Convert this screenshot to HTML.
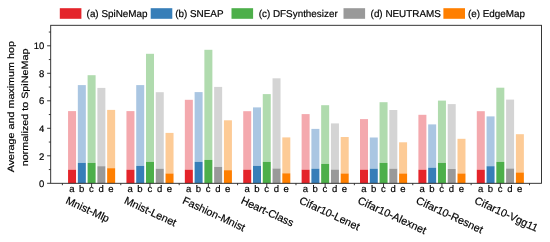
<!DOCTYPE html><html><head><meta charset="utf-8"><title>chart</title><style>html,body{margin:0;padding:0;background:#fff}svg{display:block}text{font-family:"Liberation Sans",Arial,sans-serif;fill:#000;stroke:#000;stroke-width:0.18px;text-rendering:geometricPrecision}</style></head><body>
<svg width="550" height="242" viewBox="0 0 550 242">
<rect width="550" height="242" fill="#fff"/>
<rect x="68.06" y="111.10" width="8.0" height="58.60" fill="#f4a9ae"/>
<rect x="68.06" y="169.70" width="8.0" height="13.60" fill="#e4242a"/>
<rect x="77.83" y="85.10" width="8.0" height="77.80" fill="#aac6e2"/>
<rect x="77.83" y="162.90" width="8.0" height="20.40" fill="#377eb8"/>
<rect x="87.60" y="75.20" width="8.0" height="87.70" fill="#b0dbae"/>
<rect x="87.60" y="162.90" width="8.0" height="20.40" fill="#4daf4a"/>
<rect x="97.37" y="87.90" width="8.0" height="78.30" fill="#d4d4d4"/>
<rect x="97.37" y="166.20" width="8.0" height="17.10" fill="#999999"/>
<rect x="107.14" y="109.90" width="8.0" height="58.30" fill="#fdcb96"/>
<rect x="107.14" y="168.20" width="8.0" height="15.10" fill="#ff7f00"/>
<rect x="126.45" y="111.10" width="8.0" height="58.60" fill="#f4a9ae"/>
<rect x="126.45" y="169.70" width="8.0" height="13.60" fill="#e4242a"/>
<rect x="136.22" y="85.10" width="8.0" height="80.80" fill="#aac6e2"/>
<rect x="136.22" y="165.90" width="8.0" height="17.40" fill="#377eb8"/>
<rect x="145.99" y="53.80" width="8.0" height="108.10" fill="#b0dbae"/>
<rect x="145.99" y="161.90" width="8.0" height="21.40" fill="#4daf4a"/>
<rect x="155.76" y="92.20" width="8.0" height="76.50" fill="#d4d4d4"/>
<rect x="155.76" y="168.70" width="8.0" height="14.60" fill="#999999"/>
<rect x="165.53" y="132.90" width="8.0" height="40.60" fill="#fdcb96"/>
<rect x="165.53" y="173.50" width="8.0" height="9.80" fill="#ff7f00"/>
<rect x="184.84" y="99.80" width="8.0" height="69.90" fill="#f4a9ae"/>
<rect x="184.84" y="169.70" width="8.0" height="13.60" fill="#e4242a"/>
<rect x="194.61" y="92.10" width="8.0" height="69.80" fill="#aac6e2"/>
<rect x="194.61" y="161.90" width="8.0" height="21.40" fill="#377eb8"/>
<rect x="204.38" y="49.80" width="8.0" height="110.10" fill="#b0dbae"/>
<rect x="204.38" y="159.90" width="8.0" height="23.40" fill="#4daf4a"/>
<rect x="214.15" y="86.90" width="8.0" height="80.00" fill="#d4d4d4"/>
<rect x="214.15" y="166.90" width="8.0" height="16.40" fill="#999999"/>
<rect x="223.92" y="120.30" width="8.0" height="49.90" fill="#fdcb96"/>
<rect x="223.92" y="170.20" width="8.0" height="13.10" fill="#ff7f00"/>
<rect x="243.23" y="111.20" width="8.0" height="58.50" fill="#f4a9ae"/>
<rect x="243.23" y="169.70" width="8.0" height="13.60" fill="#e4242a"/>
<rect x="253.00" y="107.40" width="8.0" height="58.50" fill="#aac6e2"/>
<rect x="253.00" y="165.90" width="8.0" height="17.40" fill="#377eb8"/>
<rect x="262.77" y="94.10" width="8.0" height="67.80" fill="#b0dbae"/>
<rect x="262.77" y="161.90" width="8.0" height="21.40" fill="#4daf4a"/>
<rect x="272.54" y="78.30" width="8.0" height="90.20" fill="#d4d4d4"/>
<rect x="272.54" y="168.50" width="8.0" height="14.80" fill="#999999"/>
<rect x="282.31" y="137.40" width="8.0" height="35.90" fill="#fdcb96"/>
<rect x="282.31" y="173.30" width="8.0" height="10.00" fill="#ff7f00"/>
<rect x="301.62" y="114.10" width="8.0" height="55.60" fill="#f4a9ae"/>
<rect x="301.62" y="169.70" width="8.0" height="13.60" fill="#e4242a"/>
<rect x="311.39" y="128.90" width="8.0" height="39.80" fill="#aac6e2"/>
<rect x="311.39" y="168.70" width="8.0" height="14.60" fill="#377eb8"/>
<rect x="321.16" y="105.20" width="8.0" height="58.70" fill="#b0dbae"/>
<rect x="321.16" y="163.90" width="8.0" height="19.40" fill="#4daf4a"/>
<rect x="330.93" y="123.40" width="8.0" height="46.20" fill="#d4d4d4"/>
<rect x="330.93" y="169.60" width="8.0" height="13.70" fill="#999999"/>
<rect x="340.70" y="137.00" width="8.0" height="36.50" fill="#fdcb96"/>
<rect x="340.70" y="173.50" width="8.0" height="9.80" fill="#ff7f00"/>
<rect x="360.01" y="119.10" width="8.0" height="50.60" fill="#f4a9ae"/>
<rect x="360.01" y="169.70" width="8.0" height="13.60" fill="#e4242a"/>
<rect x="369.78" y="137.50" width="8.0" height="31.20" fill="#aac6e2"/>
<rect x="369.78" y="168.70" width="8.0" height="14.60" fill="#377eb8"/>
<rect x="379.55" y="102.20" width="8.0" height="60.70" fill="#b0dbae"/>
<rect x="379.55" y="162.90" width="8.0" height="20.40" fill="#4daf4a"/>
<rect x="389.32" y="110.00" width="8.0" height="58.70" fill="#d4d4d4"/>
<rect x="389.32" y="168.70" width="8.0" height="14.60" fill="#999999"/>
<rect x="399.09" y="142.30" width="8.0" height="31.20" fill="#fdcb96"/>
<rect x="399.09" y="173.50" width="8.0" height="9.80" fill="#ff7f00"/>
<rect x="418.40" y="114.80" width="8.0" height="54.90" fill="#f4a9ae"/>
<rect x="418.40" y="169.70" width="8.0" height="13.60" fill="#e4242a"/>
<rect x="428.17" y="124.40" width="8.0" height="43.30" fill="#aac6e2"/>
<rect x="428.17" y="167.70" width="8.0" height="15.60" fill="#377eb8"/>
<rect x="437.94" y="100.60" width="8.0" height="62.30" fill="#b0dbae"/>
<rect x="437.94" y="162.90" width="8.0" height="20.40" fill="#4daf4a"/>
<rect x="447.71" y="104.10" width="8.0" height="64.90" fill="#d4d4d4"/>
<rect x="447.71" y="169.00" width="8.0" height="14.30" fill="#999999"/>
<rect x="457.48" y="138.80" width="8.0" height="34.70" fill="#fdcb96"/>
<rect x="457.48" y="173.50" width="8.0" height="9.80" fill="#ff7f00"/>
<rect x="476.79" y="111.20" width="8.0" height="58.50" fill="#f4a9ae"/>
<rect x="476.79" y="169.70" width="8.0" height="13.60" fill="#e4242a"/>
<rect x="486.56" y="116.40" width="8.0" height="49.80" fill="#aac6e2"/>
<rect x="486.56" y="166.20" width="8.0" height="17.10" fill="#377eb8"/>
<rect x="496.33" y="87.70" width="8.0" height="74.20" fill="#b0dbae"/>
<rect x="496.33" y="161.90" width="8.0" height="21.40" fill="#4daf4a"/>
<rect x="506.10" y="99.60" width="8.0" height="68.90" fill="#d4d4d4"/>
<rect x="506.10" y="168.50" width="8.0" height="14.80" fill="#999999"/>
<rect x="515.87" y="134.20" width="8.0" height="38.30" fill="#fdcb96"/>
<rect x="515.87" y="172.50" width="8.0" height="10.80" fill="#ff7f00"/>
<rect x="50.7" y="25.3" width="490.80" height="158.00" fill="none" stroke="#222" stroke-width="0.9"/>
<line x1="47.1" x2="50.7" y1="183.30" y2="183.30" stroke="#222" stroke-width="0.9"/>
<text x="44.300000000000004" y="187.10" font-size="9.5" text-anchor="end">0</text>
<line x1="48.800000000000004" x2="50.7" y1="169.55" y2="169.55" stroke="#222" stroke-width="0.9"/>
<line x1="47.1" x2="50.7" y1="155.80" y2="155.80" stroke="#222" stroke-width="0.9"/>
<text x="44.300000000000004" y="159.50" font-size="9.5" text-anchor="end">2</text>
<line x1="48.800000000000004" x2="50.7" y1="142.05" y2="142.05" stroke="#222" stroke-width="0.9"/>
<line x1="47.1" x2="50.7" y1="128.30" y2="128.30" stroke="#222" stroke-width="0.9"/>
<text x="44.300000000000004" y="131.90" font-size="9.5" text-anchor="end">4</text>
<line x1="48.800000000000004" x2="50.7" y1="114.55" y2="114.55" stroke="#222" stroke-width="0.9"/>
<line x1="47.1" x2="50.7" y1="100.80" y2="100.80" stroke="#222" stroke-width="0.9"/>
<text x="44.300000000000004" y="104.30" font-size="9.5" text-anchor="end">6</text>
<line x1="48.800000000000004" x2="50.7" y1="87.05" y2="87.05" stroke="#222" stroke-width="0.9"/>
<line x1="47.1" x2="50.7" y1="73.30" y2="73.30" stroke="#222" stroke-width="0.9"/>
<text x="44.300000000000004" y="76.70" font-size="9.5" text-anchor="end">8</text>
<line x1="48.800000000000004" x2="50.7" y1="59.55" y2="59.55" stroke="#222" stroke-width="0.9"/>
<line x1="47.1" x2="50.7" y1="45.80" y2="45.80" stroke="#222" stroke-width="0.9"/>
<text x="44.300000000000004" y="49.10" font-size="9.5" text-anchor="end">10</text>
<line x1="48.800000000000004" x2="50.7" y1="32.05" y2="32.05" stroke="#222" stroke-width="0.9"/>
<line x1="91.60" x2="91.60" y1="183.3" y2="187.20000000000002" stroke="#222" stroke-width="0.9"/>
<text x="71.86" y="192.3" font-size="9.5" text-anchor="middle">a</text>
<text x="81.63" y="192.3" font-size="9.5" text-anchor="middle">b</text>
<text x="91.40" y="192.3" font-size="9.5" text-anchor="middle">c</text>
<text x="101.17" y="192.3" font-size="9.5" text-anchor="middle">d</text>
<text x="110.94" y="192.3" font-size="9.5" text-anchor="middle">e</text>
<line x1="149.99" x2="149.99" y1="183.3" y2="187.20000000000002" stroke="#222" stroke-width="0.9"/>
<text x="130.25" y="192.3" font-size="9.5" text-anchor="middle">a</text>
<text x="140.02" y="192.3" font-size="9.5" text-anchor="middle">b</text>
<text x="149.79" y="192.3" font-size="9.5" text-anchor="middle">c</text>
<text x="159.56" y="192.3" font-size="9.5" text-anchor="middle">d</text>
<text x="169.33" y="192.3" font-size="9.5" text-anchor="middle">e</text>
<line x1="208.38" x2="208.38" y1="183.3" y2="187.20000000000002" stroke="#222" stroke-width="0.9"/>
<text x="188.64" y="192.3" font-size="9.5" text-anchor="middle">a</text>
<text x="198.41" y="192.3" font-size="9.5" text-anchor="middle">b</text>
<text x="208.18" y="192.3" font-size="9.5" text-anchor="middle">c</text>
<text x="217.95" y="192.3" font-size="9.5" text-anchor="middle">d</text>
<text x="227.72" y="192.3" font-size="9.5" text-anchor="middle">e</text>
<line x1="266.77" x2="266.77" y1="183.3" y2="187.20000000000002" stroke="#222" stroke-width="0.9"/>
<text x="247.03" y="192.3" font-size="9.5" text-anchor="middle">a</text>
<text x="256.80" y="192.3" font-size="9.5" text-anchor="middle">b</text>
<text x="266.57" y="192.3" font-size="9.5" text-anchor="middle">c</text>
<text x="276.34" y="192.3" font-size="9.5" text-anchor="middle">d</text>
<text x="286.11" y="192.3" font-size="9.5" text-anchor="middle">e</text>
<line x1="325.16" x2="325.16" y1="183.3" y2="187.20000000000002" stroke="#222" stroke-width="0.9"/>
<text x="305.42" y="192.3" font-size="9.5" text-anchor="middle">a</text>
<text x="315.19" y="192.3" font-size="9.5" text-anchor="middle">b</text>
<text x="324.96" y="192.3" font-size="9.5" text-anchor="middle">c</text>
<text x="334.73" y="192.3" font-size="9.5" text-anchor="middle">d</text>
<text x="344.50" y="192.3" font-size="9.5" text-anchor="middle">e</text>
<line x1="383.55" x2="383.55" y1="183.3" y2="187.20000000000002" stroke="#222" stroke-width="0.9"/>
<text x="363.81" y="192.3" font-size="9.5" text-anchor="middle">a</text>
<text x="373.58" y="192.3" font-size="9.5" text-anchor="middle">b</text>
<text x="383.35" y="192.3" font-size="9.5" text-anchor="middle">c</text>
<text x="393.12" y="192.3" font-size="9.5" text-anchor="middle">d</text>
<text x="402.89" y="192.3" font-size="9.5" text-anchor="middle">e</text>
<line x1="441.94" x2="441.94" y1="183.3" y2="187.20000000000002" stroke="#222" stroke-width="0.9"/>
<text x="422.20" y="192.3" font-size="9.5" text-anchor="middle">a</text>
<text x="431.97" y="192.3" font-size="9.5" text-anchor="middle">b</text>
<text x="441.74" y="192.3" font-size="9.5" text-anchor="middle">c</text>
<text x="451.51" y="192.3" font-size="9.5" text-anchor="middle">d</text>
<text x="461.28" y="192.3" font-size="9.5" text-anchor="middle">e</text>
<line x1="500.33" x2="500.33" y1="183.3" y2="187.20000000000002" stroke="#222" stroke-width="0.9"/>
<text x="480.59" y="192.3" font-size="9.5" text-anchor="middle">a</text>
<text x="490.36" y="192.3" font-size="9.5" text-anchor="middle">b</text>
<text x="500.13" y="192.3" font-size="9.5" text-anchor="middle">c</text>
<text x="509.90" y="192.3" font-size="9.5" text-anchor="middle">d</text>
<text x="519.67" y="192.3" font-size="9.5" text-anchor="middle">e</text>
<line x1="62.40" x2="62.40" y1="183.3" y2="185.20000000000002" stroke="#222" stroke-width="0.9"/>
<line x1="120.79" x2="120.79" y1="183.3" y2="185.20000000000002" stroke="#222" stroke-width="0.9"/>
<line x1="179.19" x2="179.19" y1="183.3" y2="185.20000000000002" stroke="#222" stroke-width="0.9"/>
<line x1="237.57" x2="237.57" y1="183.3" y2="185.20000000000002" stroke="#222" stroke-width="0.9"/>
<line x1="295.97" x2="295.97" y1="183.3" y2="185.20000000000002" stroke="#222" stroke-width="0.9"/>
<line x1="354.36" x2="354.36" y1="183.3" y2="185.20000000000002" stroke="#222" stroke-width="0.9"/>
<line x1="412.75" x2="412.75" y1="183.3" y2="185.20000000000002" stroke="#222" stroke-width="0.9"/>
<line x1="471.13" x2="471.13" y1="183.3" y2="185.20000000000002" stroke="#222" stroke-width="0.9"/>
<line x1="529.52" x2="529.52" y1="183.3" y2="185.20000000000002" stroke="#222" stroke-width="0.9"/>
<text transform="translate(65.00,202.9) rotate(25)" font-size="10.75">Mnist-Mlp</text>
<text transform="translate(123.39,202.9) rotate(25)" font-size="10.75">Mnist-Lenet</text>
<text transform="translate(181.78,202.9) rotate(25)" font-size="10.75">Fashion-Mnist</text>
<text transform="translate(240.17,202.9) rotate(25)" font-size="10.75">Heart-Class</text>
<text transform="translate(298.56,202.9) rotate(25)" font-size="10.75">Cifar10-Lenet</text>
<text transform="translate(356.95,202.9) rotate(25)" font-size="10.75">Cifar10-Alexnet</text>
<text transform="translate(415.34,202.9) rotate(25)" font-size="10.75">Cifar10-Resnet</text>
<text transform="translate(473.73,202.9) rotate(25)" font-size="10.75">Cifar10-Vgg11</text>
<text transform="translate(13.8,106.7) rotate(-90) scale(1.17,1)" font-size="9.2" text-anchor="middle">Average and maximum hop</text>
<text transform="translate(27.9,107.5) rotate(-90) scale(1.17,1)" font-size="9.2" text-anchor="middle">normalized to SpiNeMap</text>
<rect x="59.80" y="8.2" width="21.6" height="10.6" fill="#e4242a"/>
<text x="86.60" y="17.3" font-size="9.9">(a) SpiNeMap</text>
<rect x="150.70" y="8.2" width="21.6" height="10.6" fill="#377eb8"/>
<text x="175.20" y="17.3" font-size="9.9">(b) SNEAP</text>
<rect x="231.50" y="8.2" width="21.6" height="10.6" fill="#4daf4a"/>
<text x="258.70" y="17.3" font-size="9.9">(c) DFSynthesizer</text>
<rect x="343.50" y="8.2" width="21.6" height="10.6" fill="#999999"/>
<text x="370.60" y="17.3" font-size="9.9">(d) NEUTRAMS</text>
<rect x="443.40" y="8.2" width="21.6" height="10.6" fill="#ff7f00"/>
<text x="467.90" y="17.3" font-size="9.9">(e) EdgeMap</text>
</svg></body></html>
